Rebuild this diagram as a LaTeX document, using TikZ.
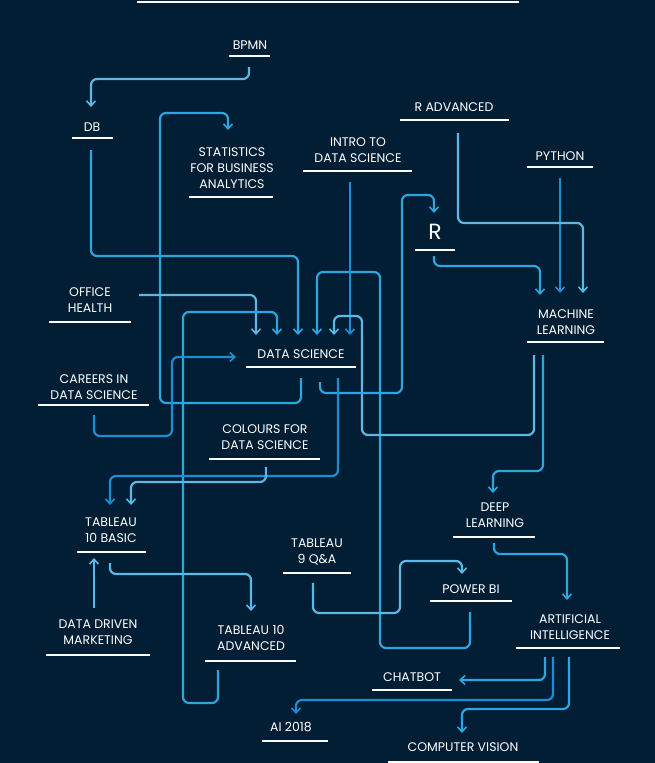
\documentclass[tikz,border=0pt]{standalone}
\usepackage{fontspec}
\setmainfont{Poppins}
\usetikzlibrary{arrows.meta}
\definecolor{bg}{HTML}{021E35}
\definecolor{ca}{HTML}{5CB9E6}
\definecolor{cb}{HTML}{2BA6E0}
\definecolor{cc}{HTML}{1C8FD2}
\begin{document}
\begin{tikzpicture}[x=1pt,y=-1pt,
  lbl/.style={text=white,font=\fontsize{12.5}{16}\selectfont,align=center,inner sep=0pt},
  ul/.style={white,line width=2pt},
  conn/.style={line width=2.2pt,rounded corners=6pt,-{Straight Barb[length=5pt,width=9pt,line width=1.6pt]}},
  lnA/.style={conn,ca},lnB/.style={conn,cb},lnC/.style={conn,cc}]
\fill[bg] (0,0) rectangle (655,763);
\useasboundingbox (0,0) rectangle (655,763);
\draw[ul] (137,2) -- (519,2);
% nodes
\node[lbl] (bpmn) at (250,45) {BPMN};
\node[lbl] (db) at (92,127) {DB};
\node[lbl] (stat) at (232,168) {STATISTICS\\FOR BUSINESS\\ANALYTICS};
\node[lbl] (intro) at (358,150) {INTRO TO\\DATA SCIENCE};
\node[lbl] (radv) at (454,107) {R ADVANCED};
\node[lbl] (py) at (560,156) {PYTHON};
\node[lbl,font=\fontsize{22}{24}\selectfont] (r) at (435,232) {R};
\node[lbl] (ml) at (566,322) {MACHINE\\LEARNING};
\node[lbl] (oh) at (90,300) {OFFICE\\HEALTH};
\node[lbl] (ds) at (301,354) {DATA SCIENCE};
\node[lbl] (car) at (94,387) {CAREERS IN\\DATA SCIENCE};
\node[lbl] (col) at (265,437) {COLOURS FOR\\DATA SCIENCE};
\node[lbl] (tb) at (111,530) {TABLEAU\\10 BASIC};
\node[lbl] (t9) at (317,552) {TABLEAU\\9 Q\&A};
\node[lbl] (deep) at (495,515) {DEEP\\LEARNING};
\node[lbl] (pbi) at (471,589) {POWER BI};
\node[lbl] (ai) at (570,627) {ARTIFICIAL\\INTELLIGENCE};
\node[lbl] (ddm) at (98,632) {DATA DRIVEN\\MARKETING};
\node[lbl] (tadv) at (251,638) {TABLEAU 10\\ADVANCED};
\node[lbl] (chat) at (412,677) {CHATBOT};
\node[lbl] (ai18) at (291,727) {AI 2018};
\node[lbl] (cv) at (463,747) {COMPUTER VISION};
% underlines
\draw[ul] (229,56)--(270,56); \draw[ul] (72,138)--(113,138);
\draw[ul] (189,197)--(273,197); \draw[ul] (303,171)--(412,171);
\draw[ul] (400,120)--(509,120); \draw[ul] (527,167)--(593,167);
\draw[ul] (415,250)--(455,250); \draw[ul] (527,342)--(604,342);
\draw[ul] (49,322)--(131,322); \draw[ul] (246,367)--(356,367);
\draw[ul] (38,405)--(149,405); \draw[ul] (209,459)--(320,459);
\draw[ul] (77,552)--(146,552); \draw[ul] (283,573)--(351,573);
\draw[ul] (453,537)--(535,537); \draw[ul] (430,601)--(512,601);
\draw[ul] (516,648)--(620,648); \draw[ul] (46,655)--(150,655);
\draw[ul] (205,661)--(296,661); \draw[ul] (372,690)--(452,690);
\draw[ul] (262,741)--(328,741); \draw[ul] (388,762)--(539,762);
% connectors
\draw[lnA] (249,67) -- (249,79) -- (91,79) -- (91,107);
\draw[lnB] (91,150) -- (91,256) -- (298,256) -- (298,335);
\draw[lnB] (301,378) -- (301,403) -- (160,403) -- (160,113) -- (228,113) -- (228,130);
\draw[lnA] (139,295) -- (256,295) -- (256,335);
\draw[lnB] (218,670) -- (218,703) -- (183,703) -- (183,312) -- (277,312) -- (277,335);
\draw[lnB] (470,612) -- (470,648) -- (380,648) -- (380,272) -- (317,272) -- (317,335);
\draw[lnC] (350,182) -- (350,335);
\draw[lnA] (534,355) -- (534,435) -- (362,435) -- (362,316) -- (334,316) -- (334,335);
\draw[lnB] (320,382) -- (320,393) -- (402,393) -- (402,195) -- (434,195) -- (434,213);
\draw[lnB] (434,256) -- (434,266) -- (540,266) -- (540,295);
\draw[lnC] (560,178) -- (560,293);
\draw[lnA] (458,133) -- (458,223) -- (583,223) -- (583,293);
\draw[lnC] (94,415) -- (94,436) -- (172,436) -- (172,357) -- (236,357);
\draw[lnC] (338,378) -- (338,476) -- (110,476) -- (110,505);
\draw[lnA] (266,467) -- (266,482) -- (131,482) -- (131,505);
\draw[lnA] (94,608) -- (94,558);
\draw[lnA] (110,563) -- (110,574) -- (251,574) -- (251,611);
\draw[lnB] (543,355) -- (543,471) -- (493,471) -- (493,493);
\draw[lnB] (494,543) -- (494,554) -- (567,554) -- (567,600);
\draw[lnA] (313,583) -- (313,613) -- (400,613) -- (400,561) -- (462,561) -- (462,574);
\draw[lnB] (545,657) -- (545,680) -- (459,680);
\draw[lnC] (553,657) -- (553,700) -- (296,700) -- (296,714);
\draw[lnB] (569,657) -- (569,709) -- (462,709) -- (462,733);
\end{tikzpicture}
\end{document}
